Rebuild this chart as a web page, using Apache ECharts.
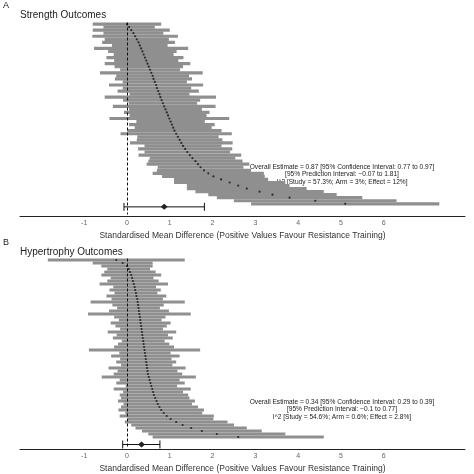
<!DOCTYPE html><html><head><meta charset="utf-8">
<script src="https://cdn.jsdelivr.net/npm/echarts@6/dist/echarts.min.js"></script>
<style>html,body{margin:0;padding:0;background:#fff}#c{width:474px;height:474px}</style></head><body><div id="c"></div>
<script>
const xTicks=[-1,0,1,2,3,4,5,6];
const strengthEst=[0.00,0.05,0.10,0.15,0.19,0.23,0.27,0.30,0.33,0.36,0.39,0.42,0.45,0.48,0.51,0.54,0.57,0.60,0.62,0.65,0.68,0.70,0.73,0.76,0.78,0.81,0.84,0.87,0.90,0.93,0.96,0.99,1.02,1.05,1.08,1.11,1.15,1.19,1.23,1.27,1.31,1.36,1.41,1.47,1.53,1.60,1.66,1.72,1.80,1.90,2.02,2.20,2.40,2.60,2.80,3.10,3.40,3.80,4.40,5.10];
const strengthHalf=[0.8,0.6,0.9,0.7,1.0,0.75,0.85,0.65,1.1,0.8,0.7,0.9,0.75,1.0,0.8,0.7,1.2,0.85,0.9,0.75,1.1,0.8,0.95,0.7,1.3,0.9,0.8,1.2,0.85,1.0,0.9,1.4,0.8,1.0,0.9,1.1,1.3,0.95,1.0,1.2,0.9,1.1,1.0,1.2,1.0,1.1,1.2,1.0,1.1,1.3,1.2,1.1,1.3,1.2,1.4,1.5,1.5,1.7,1.9,2.2];
const hypEst=[-0.25,-0.10,0.00,0.04,0.07,0.10,0.12,0.14,0.16,0.18,0.19,0.21,0.22,0.24,0.25,0.26,0.27,0.28,0.29,0.30,0.31,0.32,0.33,0.34,0.35,0.36,0.37,0.38,0.39,0.40,0.41,0.42,0.43,0.44,0.45,0.46,0.47,0.48,0.49,0.51,0.53,0.55,0.57,0.59,0.61,0.63,0.66,0.69,0.72,0.76,0.80,0.86,0.93,1.02,1.15,1.30,1.50,1.75,2.10,2.60];
const hypHalf=[1.6,0.7,0.6,0.5,0.6,0.7,0.5,0.6,0.8,0.5,0.6,0.5,0.7,0.6,1.1,0.6,0.5,0.7,1.2,0.6,0.5,0.7,0.6,0.5,0.8,0.6,0.7,0.5,0.6,0.7,1.3,0.6,0.8,0.6,0.7,0.6,0.9,0.7,0.8,1.1,0.7,0.8,0.6,0.9,0.7,0.8,0.8,0.9,0.8,0.9,1.0,0.9,1.1,1.0,1.2,1.2,1.3,1.4,1.6,2.0];
const overall=[{est:0.87,lo:-0.07,hi:1.81,row:61},{est:0.34,lo:-0.1,hi:0.77,row:62.5}];
const labels={A:'Strength Outcomes',B:'Hypertrophy Outcomes'};
const infoA=['Overall Estimate = 0.87 [95% Confidence Interval: 0.77 to 0.97]','[95% Prediction Interval: −0.07 to 1.81]','I^2 [Study = 57.3%; Arm = 3%; Effect = 12%]'];
const infoB=['Overall Estimate = 0.34 [95% Confidence Interval: 0.29 to 0.39]','[95% Prediction Interval: −0.1 to 0.77]','I^2 [Study = 54.6%; Arm = 0.6%; Effect = 2.8%]'];
const F='Liberation Sans, Arial, sans-serif';
function rows(est,half){return est.map((e,i)=>[e-half[i],e+half[i],i+1,e]);}
const grids=[{left:20,right:9,top:21,height:195},{left:20,right:9,top:257,height:195}];
const xAxes=[0,1].map(g=>({type:'value',gridIndex:g,position:'bottom',min:-2.5,max:7.9,interval:0.5,splitLine:{show:false},axisTick:{show:false},
 axisLine:{onZero:false,lineStyle:{color:'#222',width:1}},axisLabel:{color:'#666',fontSize:7,fontFamily:F,margin:4,formatter:v=>xTicks.includes(v)?String(v):''},
 name:'Standardised Mean Difference (Positive Values Favour Resistance Training)',nameLocation:'middle',nameGap:15,nameTextStyle:{fontSize:8.5,color:'#333',fontFamily:F}}));
const yAxes=[0,1].map(g=>({type:'value',gridIndex:g,min:0,max:64,inverse:true,show:false}));
function ciSeries(data,g){return {type:'custom',xAxisIndex:g,yAxisIndex:g,data,renderItem:(p,api)=>{const a=api.coord([api.value(0),api.value(2)]),b=api.coord([api.value(1),api.value(2)]);
 return {type:'line',shape:{x1:a[0],y1:a[1],x2:b[0],y2:b[1]},style:{stroke:'#8f8f8f',lineWidth:3.2}};},encode:{x:[0,1],y:2},z:2};}
function ptSeries(data,g){return {type:'scatter',xAxisIndex:g,yAxisIndex:g,data:data.map(d=>[d[3],d[2]]),symbolSize:2.2,itemStyle:{color:'#111'},z:4,silent:true,
 markLine:{silent:true,symbol:'none',label:{show:false},lineStyle:{color:'#111',type:[3,2],width:1},data:[[{coord:[0,0.5]},{coord:[0,63.5]}]]}};}
function ovSeries(o,g){return {type:'custom',xAxisIndex:g,yAxisIndex:g,data:[[o.lo,o.hi,o.row,o.est]],z:5,renderItem:(p,api)=>{
 const a=api.coord([o.lo,o.row]),b=api.coord([o.hi,o.row]),c=api.coord([o.est,o.row]);const h=4;
 return {type:'group',children:[
 {type:'line',shape:{x1:a[0],y1:a[1],x2:b[0],y2:b[1]},style:{stroke:'#111',lineWidth:1}},
 {type:'line',shape:{x1:a[0],y1:a[1]-h,x2:a[0],y2:a[1]+h},style:{stroke:'#111',lineWidth:1}},
 {type:'line',shape:{x1:b[0],y1:b[1]-h,x2:b[0],y2:b[1]+h},style:{stroke:'#111',lineWidth:1}},
 {type:'polygon',shape:{points:[[c[0]-3.5,c[1]],[c[0],c[1]-3],[c[0]+3.5,c[1]],[c[0],c[1]+3]]},style:{fill:'#222'}}]};},encode:{x:[0,1],y:2}};}
const A=rows(strengthEst,strengthHalf),B=rows(hypEst,hypHalf);
function txt(x,y,s,size,align){return {type:'text',x,y,style:{text:s,fontSize:size,fontFamily:F,fill:'#222',align:align||'left',verticalAlign:'middle'}};}
const graphic=[txt(3,6,'A',9),txt(20,15,labels.A,10),txt(3,243,'B',9),txt(20,252,labels.B,10)]
 .concat(infoA.map((s,i)=>txt(342,167+i*7.5,s,6.6,'center'))).concat(infoB.map((s,i)=>txt(342,402+i*7.5,s,6.6,'center')));
const chart=echarts.init(document.getElementById('c'),null,{renderer:'canvas'});
chart.setOption({animation:false,grid:grids,xAxis:xAxes,yAxis:yAxes,graphic,
 series:[ciSeries(A,0),ptSeries(A,0),ovSeries(overall[0],0),ciSeries(B,1),ptSeries(B,1),ovSeries(overall[1],1)]});
</script></body></html>
